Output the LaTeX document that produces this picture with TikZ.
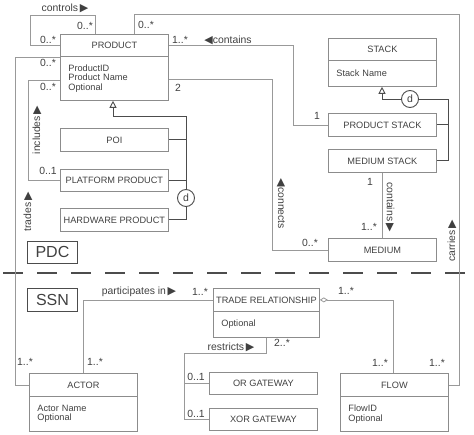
\documentclass[tikz,border=0pt]{standalone}
\usepackage{fontspec}
\setmainfont{Liberation Sans}
\newfontfamily\symfont{DejaVu Sans}
\usepackage{tikz}
\usetikzlibrary{arrows.meta}
\definecolor{assocgray}{rgb}{0.6,0.6,0.6}
\definecolor{boxgray}{rgb}{0.55,0.55,0.55}
\definecolor{labelgray}{rgb}{0.25,0.25,0.25}
\definecolor{gengray}{rgb}{0.3,0.3,0.3}
\newcommand{\rtri}{{\symfont\fontsize{11}{11}\selectfont ▶}}
\newcommand{\ltri}{{\symfont\fontsize{11}{11}\selectfont ◀}}

\begin{document}
\begin{tikzpicture}[x=1pt,y=-1pt,
  every node/.style={text=labelgray},
  cls/.style={draw=boxgray, line width=0.8pt, minimum width=108pt, minimum height=22pt,
    inner sep=0pt, anchor=north west, font=\fontsize{9.2}{10}\selectfont},
  attr/.style={cls, align=left, text width=92pt, inner xsep=8pt, font=\fontsize{9.2}{9.6}\selectfont},
  lbl/.style={inner sep=0pt, font=\fontsize{10.4}{11}\selectfont},
  assoc/.style={draw=assocgray, line width=0.8pt},
  gen/.style={draw=gengray, line width=0.9pt},
  dnode/.style={circle, draw=gengray, line width=0.9pt, fill=white, minimum size=17pt,
    inner sep=0pt, font=\fontsize{10.5}{11}\selectfont},
  pkg/.style={draw=gengray, line width=0.9pt, minimum width=50pt, minimum height=22pt,
    inner sep=0pt, anchor=north west, font=\fontsize{16}{16}\selectfont},
  sep/.style={draw=gengray, line width=1.2pt, dash pattern=on 20pt off 14pt}]
\useasboundingbox (0,0) rectangle (474,434);
%\draw[step=10pt,lightgray,very thin] (0,0) grid (474,434);

% PDC part
\node[cls] (prod) at (60,34) {PRODUCT};
\node[attr, minimum height=44pt] (prodattr) at (60,56) {ProductID\\Product Name\\Optional};
\node[cls, minimum height=23pt] (poi) at (60,128) {POI};
\node[cls] (platform) at (60,169) {PLATFORM PRODUCT};
\node[cls, minimum height=23pt] (hardware) at (60,208) {HARDWARE PRODUCT};
\node[cls] (stack) at (328,38) {STACK};
\node[attr, minimum height=26pt] (stackattr) at (328,60) {Stack Name};
\node[cls, minimum height=23pt] (pstack) at (328,113) {PRODUCT STACK};
\node[cls, minimum height=23pt] (mstack) at (328,149) {MEDIUM STACK};
\node[cls, minimum height=23pt] (medium) at (328,238) {MEDIUM};
\node[pkg] (pdc) at (27,241) {PDC};

% SSN part
\node[pkg, minimum height=23pt] (ssn) at (27,288) {SSN};
\node[cls, minimum width=106pt, minimum height=23pt] (trade) at (213,288) {TRADE RELATIONSHIP};
\node[attr, minimum width=106pt, text width=90pt, minimum height=26pt] (tradeattr) at (213,311) {Optional};
\node[cls, minimum height=23pt] (actor) at (29,373) {ACTOR};
\node[attr, minimum height=35pt] (actorattr) at (29,396) {Actor Name\\Optional};
\node[cls, minimum height=23pt] (flow) at (340,373) {FLOW};
\node[attr, minimum height=35pt] (flowattr) at (340,396) {FlowID\\Optional};
\node[cls] (orgw) at (209,372) {OR GATEWAY};
\node[cls] (xorgw) at (209,408) {XOR GATEWAY};

\draw[sep] (3,273) -- (474,273);

% generalisations
\node[dnode] (dprod) at (186,198) {d};
\node[dnode] (dstack) at (410,99) {d};
\coordinate (pgen) at (186,116);
\coordinate (sgen) at (448,99);
\draw[gen, -{Triangle[open, width=7pt, length=7pt]}] (dprod.north) -- (pgen) -| ([xshift=53pt]prodattr.south west);
\draw[gen] (poi.east) -- (poi.east -| dprod.center);
\draw[gen] (platform.east) -- (platform.east -| dprod.center);
\draw[gen] (hardware.east) -| (dprod.south);
\draw[gen, -{Triangle[open, width=7pt, length=7pt]}] (dstack.west) -| ([xshift=54pt]stackattr.south west);
\draw[gen] (dstack.east) -- (sgen) |- (mstack.east);
\draw[gen] (pstack.east) -- (pstack.east -| sgen);

% associations
\coordinate (ctlc) at (30,15);
\coordinate (carc) at (459,14);
\coordinate (rstc) at (184,353);
\draw[assoc] ([yshift=-11pt]prod.north west) -| (ctlc) -| ([xshift=35pt]prod.north west);
\draw[assoc] ([xshift=74pt]prod.north west) |- (carc) |- (flow.east);
\draw[assoc] ([yshift=-11pt]prod.north east) -| ([xshift=-35pt]pstack.west) -- (pstack.west);
\draw[assoc] ([yshift=-23pt]prodattr.north east) -| ([xshift=-56pt]medium.west) -- (medium.west);
\draw[assoc] ([xshift=54pt]mstack.south west) -- ([xshift=54pt]medium.north west);
\draw[assoc] ([yshift=-24pt]prodattr.north west) -| ([xshift=-32pt]platform.west) -- (platform.west);
\draw[assoc] ([yshift=-1pt]prodattr.north west) -| ([xshift=-14pt]actor.west) -- (actor.west);
\draw[assoc] ([xshift=54pt]actor.north west) |- (trade.west);
\draw[assoc, {Diamond[open, length=8pt, width=5pt]}-] (trade.east) -| ([xshift=53pt]flow.north west);
\draw[assoc] ([xshift=53pt]tradeattr.south west) |- (rstc) |- (xorgw.west);
\draw[assoc] (orgw.west) -- (orgw.west -| rstc);

% association names
\node[lbl] (lcontrols) at (65,8) {controls\,\rtri};
\node[lbl] (lcontains) at (228,40) {\ltri contains};
\node[lbl, rotate=-90] (lconnects) at (281,204) {\ltri connects};
\node[lbl, rotate=-90] (lcontains2) at (390,207) {contains\,\rtri};
\node[lbl, rotate=90] (lincludes) at (37,130) {includes\,\rtri};
\node[lbl, rotate=90] (ltrades) at (28,212) {trades\,\rtri};
\node[lbl, rotate=90] (lcarries) at (452,241) {carries\,\rtri};
\node[lbl] (lpart) at (139,292) {participates in\,\rtri};
\node[lbl] (lrestricts) at (231,347) {restricts\,\rtri};

% multiplicities
\node[lbl] (m1) at (85,26) {0..*};
\node[lbl] (m2) at (48,40) {0..*};
\node[lbl] (m3) at (146,25) {0..*};
\node[lbl] (m4) at (180,40) {1..*};
\node[lbl] (m5) at (48,63) {0..*};
\node[lbl] (m6) at (48,87) {0..*};
\node[lbl] (m7) at (178,88) {2};
\node[lbl] (m8) at (317,116) {1};
\node[lbl] (m9) at (48,171) {0..1};
\node[lbl] (m10) at (370,182) {1};
\node[lbl] (m11) at (369,227) {1..*};
\node[lbl] (m12) at (310,243) {0..*};
\node[lbl] (m13) at (200,292) {1..*};
\node[lbl] (m14) at (346,291) {1..*};
\node[lbl] (m15) at (282,343) {2..*};
\node[lbl] (m16) at (25,362) {1..*};
\node[lbl] (m17) at (95,362) {1..*};
\node[lbl] (m18) at (380,363) {1..*};
\node[lbl] (m19) at (437,363) {1..*};
\node[lbl] (m20) at (196,377) {0..1};
\node[lbl] (m21) at (196,414) {0..1};
\end{tikzpicture}
\end{document}
